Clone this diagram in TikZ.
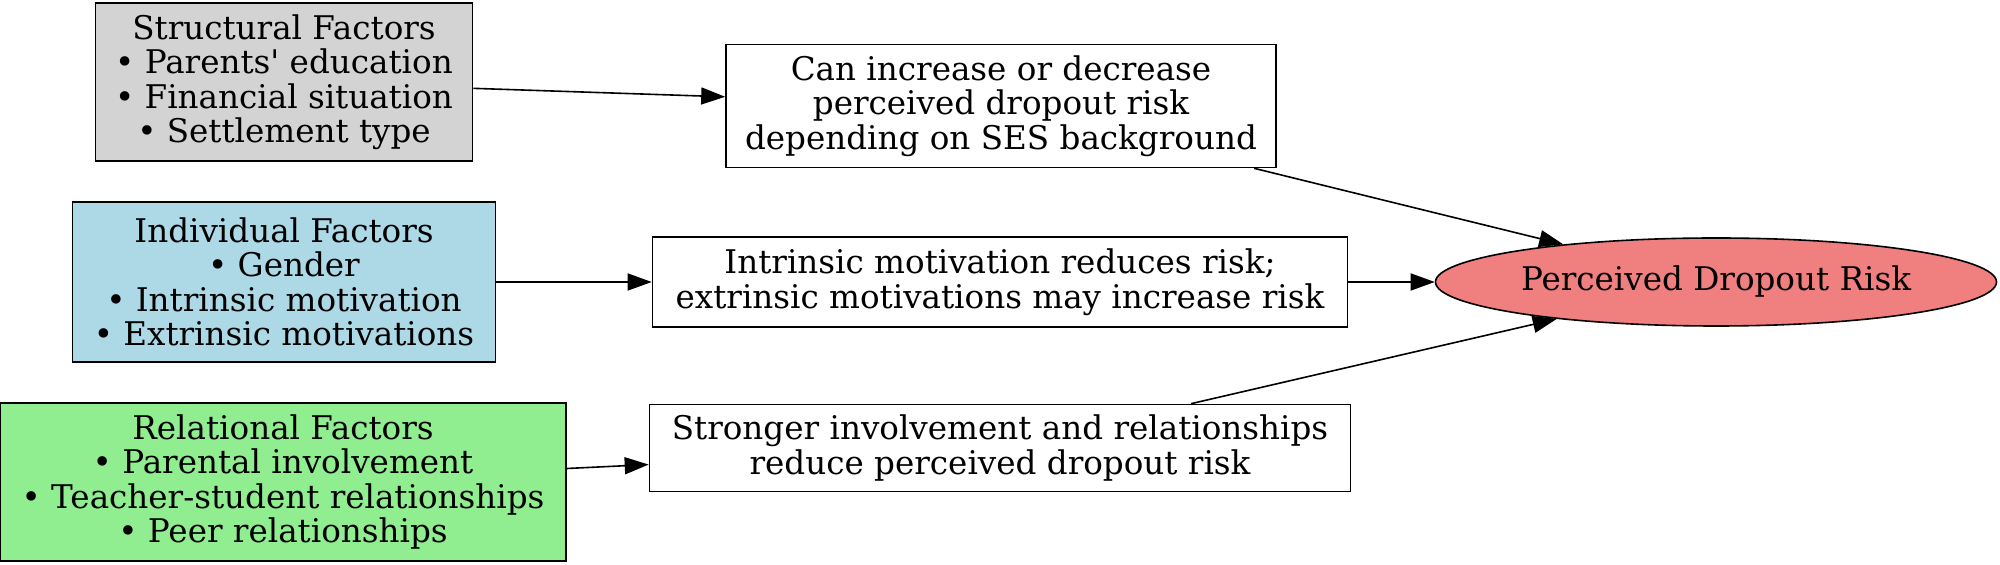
\documentclass[tikz,border=0pt]{standalone}
\usepackage{fontspec}
\setmainfont{DejaVu Serif}
\usetikzlibrary{shapes.geometric, arrows.meta}

\definecolor{factorgray}{RGB}{211,211,211}
\definecolor{factorblue}{RGB}{173,216,230}
\definecolor{factorgreen}{RGB}{144,238,144}
\definecolor{riskcoral}{RGB}{240,128,128}

\tikzset{
	factor/.style={draw, line width=0.8pt, align=center, inner sep=0pt},
	effect/.style={draw, line width=0.8pt, fill=white, align=center, inner sep=0pt},
	link/.style={-{Triangle[length=12pt, width=8.5pt]}, line width=0.8pt}
}

\begin{document}
\begin{tikzpicture}[x=1pt, y=1pt, font=\fontsize{16.3}{17.25}\selectfont]
		\useasboundingbox (0, 0) rectangle (1000, -282.5);
		% factor groups
		\node[factor, fill=factorgray, minimum width=188.5pt, minimum height=79pt] (structural) at (142, -41)
			{Structural Factors\\• Parents\textquotesingle{} education\\• Financial situation\\• Settlement type};
		\node[factor, fill=factorblue, minimum width=211.5pt, minimum height=80pt] (individual) at (142, -141)
			{Individual Factors\\• Gender\\• Intrinsic motivation\\• Extrinsic motivations};
		\node[factor, fill=factorgreen, minimum width=283pt, minimum height=79pt] (relational) at (141.5, -241)
			{Relational Factors\\• Parental involvement\\• Teacher-student relationships\\• Peer relationships};
		% effects
		\node[effect, minimum width=275pt, minimum height=61.5pt] (ses) at (500.5, -53)
			{Can increase or decrease\\perceived dropout risk\\depending on SES background};
		\node[effect, minimum width=347.5pt, minimum height=45pt] (motivation) at (500, -141)
			{Intrinsic motivation reduces risk;\\extrinsic motivations may increase risk};
		\node[effect, minimum width=350.5pt, minimum height=43.5pt] (relations) at (500, -224)
			{Stronger involvement and relationships\\reduce perceived dropout risk};
		% outcome
		\node[ellipse, draw, line width=0.8pt, fill=riskcoral, minimum width=280.5pt, minimum height=44pt, inner sep=0pt] (risk) at (858, -141)
			{Perceived Dropout Risk};
		\foreach \a/\b in {structural/ses, individual/motivation, relational/relations, ses/risk, motivation/risk, relations/risk}
			\draw[link] (\a) -- (\b);
	\end{tikzpicture}
\end{document}
